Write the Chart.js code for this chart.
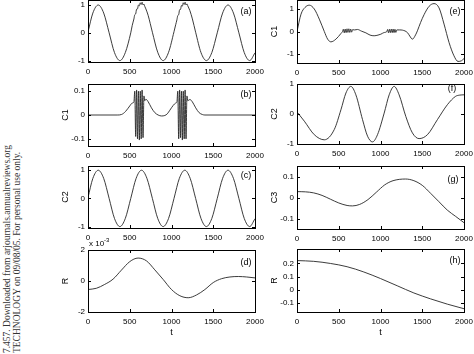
<!DOCTYPE html>
<html>
<head>
<meta charset="utf-8">
<script src="https://cdn.jsdelivr.net/npm/chart.js@4.4.0/dist/chart.umd.min.js"></script>
<style>
  html, body { margin: 0; padding: 0; background: #fff; }
  body { width: 474px; height: 354px; position: relative; overflow: hidden; }
  canvas { position: absolute; }
  #stamp {
    position: absolute; left: 2px; top: 353px;
    transform: rotate(-90deg); transform-origin: left top;
    white-space: nowrap; font: 9.5px/10px "Liberation Serif", serif; color: #333;
  }
</style>
</head>
<body>
<div id="stamp">7.457. Downloaded from arjournals.annualreviews.org<br>TECHNOLOGY on 09/08/05. For personal use only.</div>
<script>
// x axis (t) ticks, shared by all panels
const tTicks = [0, 500, 1000, 1500, 2000];

// (a) signal
const tA = [0, 58, 123, 188, 253, 317, 382, 447, 512, 530, 550,
            560, 571, 582, 593, 604, 615, 626, 637, 648, 659, 670, 680,
            693, 720, 771, 835, 900, 965, 1030, 1050, 1065,
            1075, 1086, 1097, 1108, 1119, 1130, 1141, 1152, 1163, 1174, 1185,
            1195, 1220, 1250, 1289, 1353, 1418, 1483, 1548, 1612, 1677, 1742, 1807, 1871, 1936, 2000];
const yA = [0.03, 0.71, 1, 0.71, 0, -0.71, -1, -0.71, 0, 0.27, 0.5,
            0.65, 0.68, 0.85, 0.86, 1.0, 0.97, 1.08, 1.02, 1.1, 1.0, 1.03, 0.95,
            0.86, 0.63, 0.02, -0.7, -1, -0.7, 0.04, 0.29, 0.47,
            0.62, 0.65, 0.83, 0.84, 0.98, 0.96, 1.08, 1.02, 1.1, 1.0, 1.04,
            0.97, 0.80, 0.50, 0.02, -0.71, -1, -0.71, 0, 0.71, 1, 0.71, 0, -0.71, -1, -0.72];

// (b) C1
const tB = [0, 350, 400, 450, 500, 530, 550,
            560, 571, 582, 593, 604, 615, 626, 637, 648, 659, 670,
            680, 693, 720, 760, 800, 840, 880, 920, 950, 980, 1020, 1050, 1065,
            1075, 1086, 1097, 1108, 1119, 1130, 1141, 1152, 1163, 1174, 1185,
            1195, 1220, 1250, 1290, 1330, 1370, 1400, 2000];
const yB = [0, 0, 0.002, 0.015, 0.038, 0.05, 0.055,
            0.1, -0.09, 0.105, -0.1, 0.1, -0.105, 0.1, -0.1, 0.105, -0.095, 0.08,
            0.06, 0.066, 0.056, 0.03, 0.01, 0, -0.004, -0.002, 0.005, 0.02, 0.04, 0.05, 0.055,
            0.1, -0.1, 0.105, -0.095, 0.1, -0.105, 0.1, -0.1, 0.105, -0.1, 0.08,
            0.06, 0.065, 0.055, 0.03, 0.01, 0.002, 0, 0];

// (c) C2
const tC = [0, 58, 123, 188, 253, 317, 382, 447, 512, 576, 641, 706, 771, 835, 900, 965,
            1030, 1094, 1159, 1224, 1289, 1353, 1418, 1483, 1548, 1612, 1677, 1742, 1807, 1871, 1936, 2000];
const yC = [0.03, 0.71, 1, 0.71, 0, -0.71, -1, -0.71, 0, 0.71, 1, 0.71, 0, -0.71, -1, -0.71,
            0, 0.71, 1, 0.71, 0, -0.71, -1, -0.71, 0, 0.71, 1, 0.71, 0, -0.71, -1, -0.72];

// (d) R, in units of 1e-3
const tD = [0, 100, 200, 300, 400, 500, 600, 700, 800, 900, 1000, 1100, 1200, 1300, 1400, 1500, 1600, 1700, 1800, 1900, 2000];
const yD = [-0.55, -0.47, -0.22, 0.12, 0.7, 1.25, 1.48, 1.3, 0.72, 0.1, -0.55, -0.95, -1.08, -0.9, -0.55, -0.1, 0.15, 0.26, 0.29, 0.26, 0.2];

// (e) C1
const tE = [0, 48, 96, 147, 207, 267, 327, 367, 406, 466, 526, 545,
            555, 566, 577, 588, 599, 610, 621, 632, 643, 654, 665,
            690, 725, 770, 825, 875, 924, 970, 1004, 1040, 1076,
            1085, 1096, 1107, 1118, 1129, 1140, 1151, 1162, 1173, 1184, 1195,
            1230, 1263, 1323, 1350, 1382, 1420, 1442, 1480, 1522, 1582, 1641, 1701, 1761, 1821, 1880, 1928, 1970, 2000];
const yE = [0, 0.77, 1.07, 1.17, 1.0, 0.55, 0, -0.34, -0.46, -0.34, -0.09, 0,
            0.1, -0.06, 0.11, -0.05, 0.12, -0.04, 0.12, -0.04, 0.11, -0.03, 0.08,
            0.07, 0.09, 0.02, -0.06, -0.16, -0.19, -0.16, -0.12, -0.05, 0,
            0.09, -0.06, 0.1, -0.05, 0.11, -0.05, 0.11, -0.05, 0.1, -0.04, 0.07,
            0.07, 0.06, -0.05, -0.2, -0.34, -0.15, 0.03, 0.4, 0.75, 1.12, 1.24, 1.05, 0.33, -0.49, -1.08, -1.33, -1.3, -1.2];

// (f) C2
const tF = [0, 88, 207, 327, 446, 526, 586, 645, 705, 785, 845, 904, 964, 1044, 1104, 1163, 1223,
            1303, 1382, 1462, 1562, 1681, 1801, 1900, 1950, 2000];
const yF = [0.07, -0.24, -0.69, -0.86, -0.52, 0.14, 0.7, 0.92, 0.64, -0.19, -0.74, -0.93, -0.69, 0.03, 0.64, 0.92, 0.64,
            -0.08, -0.63, -0.82, -0.69, -0.19, 0.31, 0.59, 0.63, 0.64];

// (g) C3
const tG = [0, 100, 200, 300, 400, 500, 600, 665, 750, 850, 950, 1050, 1150, 1300, 1400, 1500, 1600, 1700, 1800, 1900, 2000];
const yG = [0.028, 0.027, 0.022, 0.01, -0.008, -0.026, -0.038, -0.04, -0.033, -0.01, 0.025, 0.06, 0.08, 0.088, 0.08, 0.058, 0.02, -0.02, -0.06, -0.09, -0.12];

// (h) R
const tH = [0, 200, 400, 600, 800, 1000, 1200, 1400, 1600, 1800, 2000];
const yH = [0.222, 0.216, 0.2, 0.175, 0.135, 0.085, 0.03, -0.025, -0.07, -0.11, -0.145];

// y tick values
const yTicksA = [-1, 0, 1];
const yTicksB = [-0.1, 0, 0.1];
const yTicksC = [-1, 0, 1];
const yTicksD = [-2, 0, 2];
const yTicksE = [-1, 0, 1];
const yTicksF = [-1, 0, 1];
const yTicksG = [-0.1, 0, 0.1];
const yTicksH = [-0.1, 0, 0.1, 0.2];

const FONT = '"Liberation Sans", Arial, sans-serif';
const Y_W = 28, PAD_T = 14, PAD_R = 22;

Chart.defaults.font.family = FONT;
Chart.defaults.color = '#000';

// box, inward ticks and the (a)..(h) tags, MATLAB style
const framePlugin = {
  id: 'frame',
  afterDraw(chart, args, o) {
    const { ctx, chartArea: a, scales } = chart;
    ctx.save();
    ctx.strokeStyle = '#000';
    ctx.lineWidth = 1;
    ctx.strokeRect(a.left + 0.5, a.top + 0.5, a.width, a.height);
    ctx.beginPath();
    scales.x.ticks.forEach(tk => {
      const px = Math.round(scales.x.getPixelForValue(tk.value)) + 0.5;
      ctx.moveTo(px, a.bottom); ctx.lineTo(px, a.bottom - 3);
      ctx.moveTo(px, a.top); ctx.lineTo(px, a.top + 3);
    });
    scales.y.ticks.forEach(tk => {
      const py = Math.round(scales.y.getPixelForValue(tk.value)) + 0.5;
      ctx.moveTo(a.left, py); ctx.lineTo(a.left + 3, py);
      ctx.moveTo(a.right, py); ctx.lineTo(a.right - 3, py);
    });
    ctx.stroke();
    ctx.fillStyle = '#000';
    ctx.font = '9px ' + FONT;
    ctx.textAlign = 'center';
    ctx.textBaseline = 'middle';
    ctx.fillText(o.tag, a.right - o.dx, a.top + o.dy);
    if (o.expo) {
      ctx.textAlign = 'left';
      ctx.textBaseline = 'alphabetic';
      ctx.font = '8px ' + FONT;
      ctx.fillText('x 10', a.left + 1, a.top - 4);
      const w = ctx.measureText('x 10').width;
      ctx.font = '6px ' + FONT;
      ctx.fillText('-3', a.left + 1 + w, a.top - 8);
    }
    ctx.restore();
  }
};

const panels = [
  { tag: '(a)', x: 88,  y: 0,   w: 167, h: 62, t: tA, v: yA, min: -1.05, max: 1.18, yt: yTicksA, yTitle: '',   dx: 9,  dy: 12 },
  { tag: '(b)', x: 88,  y: 84,  w: 167, h: 62, t: tB, v: yB, min: -0.13, max: 0.13, yt: yTicksB, yTitle: 'C1', dx: 9,  dy: 11 },
  { tag: '(c)', x: 88,  y: 166, w: 167, h: 62, t: tC, v: yC, min: -1.05, max: 1.15, yt: yTicksC, yTitle: 'C2', dx: 9,  dy: 10 },
  { tag: '(d)', x: 88,  y: 250, w: 167, h: 62, t: tD, v: yD, min: -2,    max: 2,    yt: yTicksD, yTitle: 'R',  dx: 9,  dy: 13, xTitle: 't', expo: true },
  { tag: '(e)', x: 297, y: 0,   w: 167, h: 63, t: tE, v: yE, min: -1.4,  max: 1.4,  yt: yTicksE, yTitle: 'C1', dx: 9,  dy: 12 },
  { tag: '(f)', x: 297, y: 84,  w: 167, h: 60, t: tF, v: yF, min: -1,    max: 1,    yt: yTicksF, yTitle: 'C2', dx: 12, dy: 5 },
  { tag: '(g)', x: 297, y: 166, w: 167, h: 63, t: tG, v: yG, min: -0.15, max: 0.15, yt: yTicksG, yTitle: 'C3', dx: 11, dy: 14 },
  { tag: '(h)', x: 297, y: 249, w: 167, h: 63, t: tH, v: yH, min: -0.17, max: 0.31, yt: yTicksH, yTitle: 'R',  dx: 9,  dy: 12, xTitle: 't' }
];

panels.forEach(p => {
  const xH = p.xTitle ? 26 : 14;
  const cv = document.createElement('canvas');
  cv.width = Y_W + p.w + PAD_R;
  cv.height = PAD_T + p.h + xH;
  cv.style.left = (p.x - Y_W) + 'px';
  cv.style.top = (p.y - PAD_T) + 'px';
  document.body.appendChild(cv);

  new Chart(cv, {
    type: 'line',
    data: {
      datasets: [{
        data: p.t.map((t, i) => ({ x: t, y: p.v[i] })),
        borderColor: '#262626',
        borderWidth: 0.9,
        pointRadius: 0,
        cubicInterpolationMode: 'monotone',
        fill: false
      }]
    },
    options: {
      responsive: false,
      animation: false,
      events: [],
      layout: { padding: { top: PAD_T, right: PAD_R, left: 0, bottom: 0 } },
      plugins: {
        legend: { display: false },
        tooltip: { enabled: false },
        frame: { tag: p.tag, dx: p.dx, dy: p.dy, expo: !!p.expo }
      },
      scales: {
        x: {
          type: 'linear', min: 0, max: 2000,
          afterBuildTicks: s => { s.ticks = tTicks.map(v => ({ value: v })); },
          afterFit: s => { s.height = xH; },
          grid: { display: false, drawTicks: false },
          border: { display: false },
          ticks: { padding: 5, autoSkip: false, maxRotation: 0, font: { size: 8 }, color: '#000', callback: v => String(v) },
          title: { display: !!p.xTitle, text: p.xTitle || '', padding: 0, font: { size: 9 }, color: '#000' }
        },
        y: {
          min: p.min, max: p.max,
          afterBuildTicks: s => { s.ticks = p.yt.map(v => ({ value: v })); },
          afterFit: s => { s.width = Y_W; },
          grid: { display: false, drawTicks: false },
          border: { display: false },
          ticks: { padding: 3, autoSkip: false, font: { size: 8 }, color: '#000', callback: v => String(v) },
          title: { display: !!p.yTitle, text: p.yTitle, padding: 0, font: { size: 9 }, color: '#000' }
        }
      }
    },
    plugins: [framePlugin]
  });
});
</script>
</body>
</html>
